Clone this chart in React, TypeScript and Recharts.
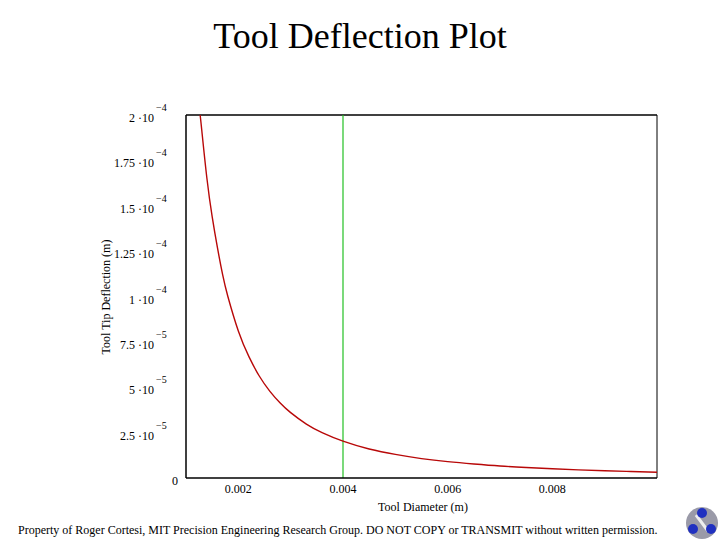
import React from 'react';
import { LineChart, Line, XAxis, YAxis, ReferenceLine } from 'recharts';

// tool diameter (m) vs tool tip deflection (m)
const diameters = [
  0.00127, 0.0013, 0.0014, 0.0015, 0.0016, 0.0017, 0.0018, 0.002, 0.0022, 0.0024,
  0.0026, 0.0028, 0.003, 0.0033, 0.0036, 0.004, 0.0045, 0.005, 0.0055, 0.006,
  0.0065, 0.007, 0.0075, 0.008, 0.0085, 0.009, 0.0095, 0.01,
];
const deflections = [
  2.0e-4, 1.92e-4, 1.65e-4, 1.44e-4, 1.27e-4, 1.12e-4, 1.0e-4, 8.1e-5, 6.7e-5, 5.62e-5,
  4.79e-5, 4.13e-5, 3.6e-5, 2.97e-5, 2.5e-5, 2.03e-5, 1.6e-5, 1.3e-5, 1.07e-5, 9.0e-6,
  7.7e-6, 6.6e-6, 5.8e-6, 5.1e-6, 4.5e-6, 4.0e-6, 3.6e-6, 3.2e-6,
];

const xTicks = [0.002, 0.004, 0.006, 0.008];
const yTicks = [0, 2.5e-5, 5e-5, 7.5e-5, 1e-4, 1.25e-4, 1.5e-4, 1.75e-4, 2e-4];
const yTickLabels = ['0', '2.5 \u00b710', '5 \u00b710', '7.5 \u00b710', '1 \u00b710', '1.25 \u00b710', '1.5 \u00b710', '1.75 \u00b710', '2 \u00b710'];
const yTickExps = ['', '\u22125', '\u22125', '\u22125', '\u22124', '\u22124', '\u22124', '\u22124', '\u22124'];

const selectedDiameter = 0.004;

const data = diameters.map((d, i) => ({ d, y: deflections[i] }));

const serif = '"Liberation Serif", "Times New Roman", serif';

const YTick = (props: any) => {
  const { x, y, payload } = props;
  const i = yTicks.indexOf(payload.value);
  if (i <= 0) {
    return (
      <text x={x} y={y + 7} textAnchor="end" fontSize={12} fontFamily={serif} fill="#000">
        {yTickLabels[0]}
      </text>
    );
  }
  return (
    <g>
      <text x={x - 24} y={y + 7} textAnchor="end" fontSize={12} fontFamily={serif} fill="#000">
        {yTickLabels[i]}
      </text>
      <text x={x - 22} y={y - 4} textAnchor="start" fontSize={10} fontFamily={serif} fill="#000">
        {yTickExps[i]}
      </text>
    </g>
  );
};

const Logo = () => (
  <svg width={36} height={36} style={{ position: 'absolute', left: 684, top: 505 }}>
    <circle cx={18} cy={18} r={16} fill="#9a9aa8" />
    <line x1={12} y1={10} x2={24} y2={26} stroke="#eee" strokeWidth={3} />
    <circle cx={18} cy={8} r={5} fill="#2030c0" />
    <circle cx={9} cy={24} r={5} fill="#2030c0" />
    <circle cx={27} cy={24} r={5} fill="#2030c0" />
  </svg>
);

export default function App() {
  return (
    <div style={{ position: 'absolute', left: 0, top: 0, width: 720, height: 540, background: '#fff', fontFamily: serif }}>
      <div style={{ position: 'absolute', left: 0, width: 720, top: 14, textAlign: 'center', fontSize: 36, lineHeight: '44px', color: '#000' }}>
        Tool Deflection Plot
      </div>
      <LineChart width={720} height={540} data={data} margin={{ top: 115, right: 63, bottom: 32, left: 106 }}>
        <XAxis
          type="number"
          dataKey="d"
          domain={[0.001, 0.01]}
          ticks={xTicks}
          tickLine={false}
          tickMargin={0}
          height={30}
          axisLine={{ stroke: '#000', strokeWidth: 1.5 }}
          tick={{ fill: '#000', fontSize: 12, fontFamily: serif }}
          tickFormatter={(v: number) => v.toFixed(3)}
          allowDataOverflow
        />
        <YAxis
          type="number"
          domain={[0, 0.0002]}
          ticks={yTicks}
          width={80}
          tickLine={false}
          axisLine={{ stroke: '#000', strokeWidth: 1.5 }}
          tick={<YTick />}
          allowDataOverflow
        />
        <ReferenceLine y={0.0002} stroke="#000" strokeWidth={1.5} />
        <ReferenceLine x={0.01} stroke="#000" strokeWidth={1} />
        <ReferenceLine x={selectedDiameter} stroke="#22c022" strokeWidth={1.2} />
        <Line
          type="natural"
          dataKey="y"
          stroke="#b80808"
          strokeWidth={1.4}
          dot={false}
          isAnimationActive={false}
        />
      </LineChart>
      <div style={{ position: 'absolute', left: 423 - 100, width: 200, top: 500, textAlign: 'center', fontSize: 12, lineHeight: '14px', color: '#000' }}>
        Tool Diameter (m)
      </div>
      <div
        style={{
          position: 'absolute', left: 106 - 100, top: 297 - 7, width: 200, textAlign: 'center',
          fontSize: 12, lineHeight: '14px', color: '#000', transform: 'rotate(-90deg)',
        }}
      >
        Tool Tip Deflection (m)
      </div>
      <div style={{ position: 'absolute', left: 18, top: 523, fontSize: 12, lineHeight: '14px', color: '#000', whiteSpace: 'nowrap' }}>
        Property of Roger Cortesi, MIT Precision Engineering Research Group. DO NOT COPY or TRANSMIT without written permission.
      </div>
      <Logo />
    </div>
  );
}
